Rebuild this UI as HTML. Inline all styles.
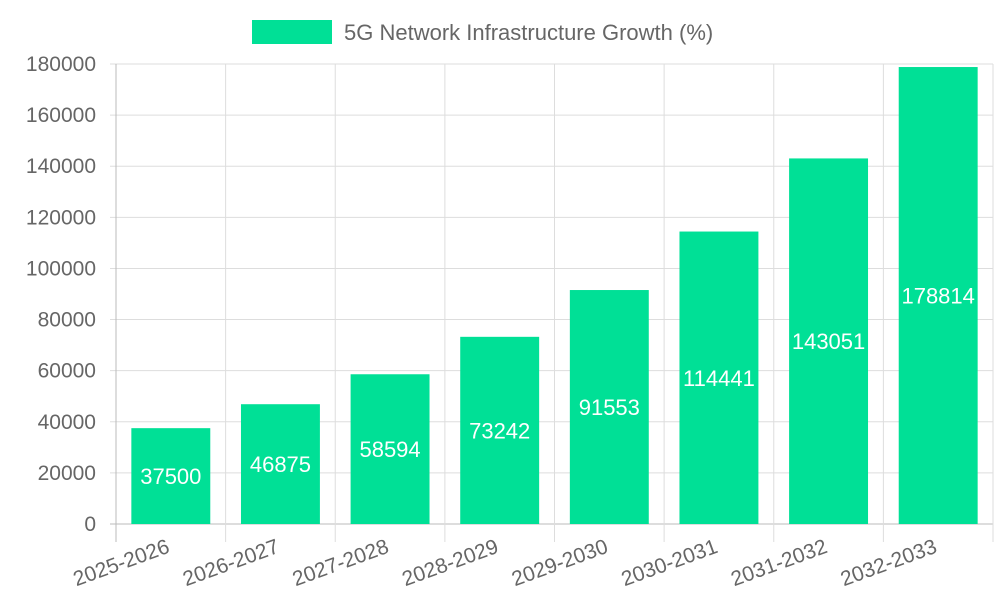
<!DOCTYPE html>
<html><head><meta charset="utf-8"><style>
html,body{margin:0;padding:0;background:#fff;width:1000px;height:600px;overflow:hidden}
svg{font-family:"Liberation Sans",sans-serif}
</style></head><body>
<svg id="chart" width="1000" height="600"></svg>
<script>
const categories=["2025-2026","2026-2027","2027-2028","2028-2029","2029-2030","2030-2031","2031-2032","2032-2033"];
const values=[37500,46875,58594,73242,91553,114441,143051,178814];
const yTicks=[0,20000,40000,60000,80000,100000,120000,140000,160000,180000];
const seriesName="5G Network Infrastructure Growth (%)";
const svg=document.getElementById('chart');
const NS="http://www.w3.org/2000/svg";
const L=116,R=993,T=64,B=524,yMax=180000;
const cw=(R-L)/categories.length;
function y(v){return B-v/yMax*(B-T);}
function x(i){return L+cw*i;}
function mk(tag,attrs,parent){const e=document.createElementNS(NS,tag);for(const k in attrs)e.setAttribute(k,attrs[k]);(parent||svg).appendChild(e);return e;}
// legend
const lg=mk('g',{});


const lb=mk('rect',{x:252,y:20,width:80,height:24,fill:'#00e096'},lg);


const lt=mk('text',{x:344,y:40,'font-size':22,fill:'#666'},lg);
lt.textContent=seriesName;


// grid
yTicks.forEach(t=>{
  const g=mk('line',{x1:L-6,x2:R,y1:y(t),y2:y(t),stroke:t===0?'#bbb':'#ddd','stroke-width':1});
  
  
  const tx=mk('text',{x:L-20,y:y(t)+7,'font-size':21,fill:'#666','text-anchor':'end'});
  tx.textContent=t;
  
  
});
for(let i=0;i<=categories.length;i++){
  const g=mk('line',{x1:x(i),x2:x(i),y1:T,y2:B+18,stroke:i===0?'#bbb':'#ddd','stroke-width':1});
  
  
}
categories.forEach((c,i)=>{
  const cx=x(i)+cw/2,bw=cw*0.72;
  const b=mk('rect',{x:cx-bw/2,y:y(values[i]),width:bw,height:B-y(values[i]),fill:'#00e096'});
  
  
  const v=mk('text',{x:cx,y:(y(values[i])+B)/2+8,'font-size':22,fill:'#fff','text-anchor':'middle'});
  v.textContent=values[i];
  
  
  const lab=mk('text',{x:0,y:0,'font-size':21,fill:'#666','text-anchor':'end',transform:`translate(${cx},${B+28}) rotate(-20)`});
  lab.textContent=c;
  
  
});
</script>
</body></html>
